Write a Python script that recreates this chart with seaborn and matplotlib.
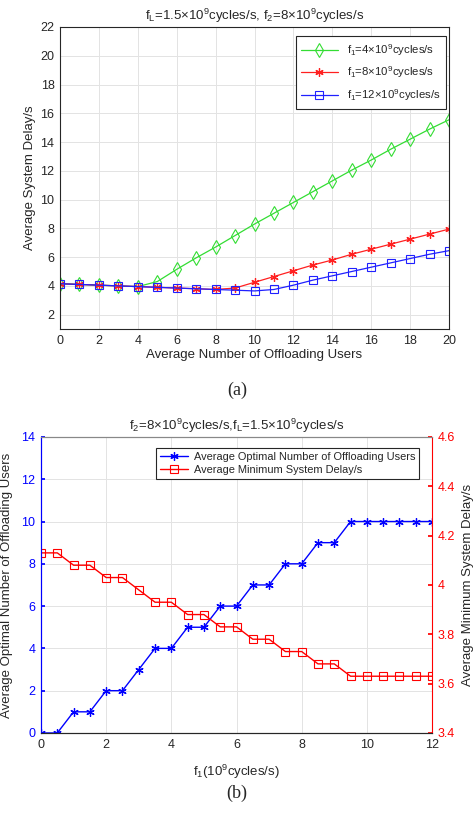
import numpy as np
import pandas as pd
import matplotlib
matplotlib.use("Agg")
import matplotlib.pyplot as plt
import seaborn as sns

# (a) average system delay vs number of offloading users
users = list(range(21))
delay_f4 = [4.15, 4.1, 4.05, 4.0, 3.95, 4.3, 5.15, 5.95, 6.7, 7.5, 8.3,
            9.05, 9.8, 10.55, 11.3, 12.05, 12.75, 13.5, 14.2, 14.9, 15.55]
delay_f8 = [4.15, 4.1, 4.05, 4.0, 3.95, 3.9, 3.85, 3.8, 3.75, 3.85, 4.25,
            4.65, 5.05, 5.45, 5.8, 6.2, 6.55, 6.9, 7.25, 7.6, 7.95]
delay_f12 = [4.15, 4.1, 4.05, 4.0, 3.95, 3.9, 3.85, 3.8, 3.75, 3.7, 3.65,
             3.75, 4.05, 4.4, 4.7, 5.0, 5.3, 5.6, 5.9, 6.2, 6.45]

# (b) optimal users and minimum delay vs f1
f1 = [0, 0.5, 1, 1.5, 2, 2.5, 3, 3.5, 4, 4.5, 5, 5.5, 6, 6.5, 7, 7.5, 8,
      8.5, 9, 9.5, 10, 10.5, 11, 11.5, 12]
opt_users = [0, 0, 1, 1, 2, 2, 3, 4, 4, 5, 5, 6, 6, 7, 7, 8, 8, 9, 9, 10,
             10, 10, 10, 10, 10]
min_delay = [4.13, 4.13, 4.08, 4.08, 4.03, 4.03, 3.98, 3.93, 3.93, 3.88,
             3.88, 3.83, 3.83, 3.78, 3.78, 3.73, 3.73, 3.68, 3.68, 3.63,
             3.63, 3.63, 3.63, 3.63, 3.63]

sns.set_theme(style="whitegrid")
plt.rcParams["font.family"] = ["Liberation Sans", "DejaVu Sans"]
plt.rcParams["mathtext.default"] = "regular"
plt.rcParams["grid.color"] = "#e3e3e3"
plt.rcParams["grid.linewidth"] = 0.7

dark = "#262626"
asterisk = (6, 2, 0)
fig = plt.figure(figsize=(4.74, 8.23), dpi=100)

# ---------------- (a) ----------------
ax = fig.add_axes([0.1266, 0.6002, 0.8207, 0.367])
df_a = pd.DataFrame({"users": users, "f4": delay_f4, "f8": delay_f8,
                     "f12": delay_f12})
sns.lineplot(data=df_a, x="users", y="f4", ax=ax, color="#33dd33", lw=0.9,
             marker="d", markersize=7.5, markerfacecolor="none",
             markeredgecolor="#33dd33", markeredgewidth=0.8,
             label=r"f$_1$=4$\times$10$^9$cycles/s")
sns.lineplot(data=df_a, x="users", y="f8", ax=ax, color="#ff2020", lw=0.9,
             marker=asterisk, markersize=6, markeredgecolor="#ff2020",
             markeredgewidth=0.9,
             label=r"f$_1$=8$\times$10$^9$cycles/s")
sns.lineplot(data=df_a, x="users", y="f12", ax=ax, color="#2020ff", lw=0.9,
             marker="s", markersize=6, markerfacecolor="none",
             markeredgecolor="#2020ff", markeredgewidth=0.8,
             label=r"f$_1$=12$\times$10$^9$cycles/s")
ax.set_xlim(0, 20)
ax.set_ylim(1, 22)
ax.set_xticks(np.arange(0, 21, 2))
ax.set_yticks(np.arange(2, 23, 2))
ax.set_xlabel("Average Number of Offloading Users", fontsize=9.5,
              color=dark, labelpad=2)
ax.set_ylabel("Average System Delay/s", fontsize=9.5, color=dark,
              labelpad=3)
ax.set_title(r"f$_L$=1.5$\times$10$^9$cycles/s, f$_2$=8$\times$10$^9$cycles/s",
             fontsize=9.5, color=dark, pad=5)
ax.tick_params(direction="in", length=3, labelsize=9, colors=dark,
               pad=4)
for s in ax.spines.values():
    s.set_color(dark)
    s.set_linewidth(0.8)
leg = ax.legend(loc="upper right", fontsize=8.2, frameon=True,
                fancybox=False, edgecolor=dark, framealpha=1,
                borderpad=0.5, labelspacing=0.6, handlelength=3.2,
                borderaxespad=0, bbox_to_anchor=(0.992, 0.97))
leg.get_frame().set_linewidth(0.8)
fig.text(0.5, 1 - 390 / 823, "(a)", ha="center", va="center",
         fontsize=13, family="Liberation Serif")

# ---------------- (b) ----------------
bx = fig.add_axes([0.0865, 0.1094, 0.825, 0.3597])
bx2 = bx.twinx()
df_b = pd.DataFrame({"f1": f1, "users": opt_users, "delay": min_delay})
sns.lineplot(data=df_b, x="f1", y="users", ax=bx, color="#0000ff", lw=1.0,
             marker=asterisk, markersize=6, markeredgecolor="#0000ff",
             markeredgewidth=0.9, legend=False)
sns.lineplot(data=df_b, x="f1", y="delay", ax=bx2, color="#ff0000", lw=1.0,
             marker="s", markersize=6, markerfacecolor="none",
             markeredgecolor="#ff0000", markeredgewidth=0.8, legend=False)
bx.set_xlim(0, 12)
bx.set_ylim(0, 14)
bx2.set_ylim(3.4, 4.6)
bx.set_xticks(np.arange(0, 13, 2))
bx.set_yticks(np.arange(0, 15, 2))
bx2.set_yticks(np.round(np.arange(3.4, 4.61, 0.2), 1))
bx2.set_yticklabels(["3.4", "3.6", "3.8", "4", "4.2", "4.4", "4.6"])
bx2.grid(False)
bx.set_xlabel(r"f$_1$(10$^9$cycles/s)", fontsize=9.5, color=dark,
              labelpad=9)
bx.set_ylabel("Average Optimal Number of Offloading Users", fontsize=9.5,
              color=dark, labelpad=6)
bx2.set_ylabel("Average Minimum System Delay/s", fontsize=9.5, color=dark,
               labelpad=5)
bx.set_title(r"f$_2$=8$\times$10$^9$cycles/s,f$_L$=1.5$\times$10$^9$cycles/s",
             fontsize=9.5, color=dark, pad=5)
bx.tick_params(direction="in", length=3, labelsize=9, pad=4)
bx.tick_params(axis="x", colors=dark)
bx.tick_params(axis="y", colors="#0000ff")
bx2.tick_params(axis="y", direction="in", length=3, labelsize=9,
                colors="#ff0000", pad=4)
for a in (bx, bx2):
    for s in a.spines.values():
        s.set_linewidth(0.8)
        s.set_color(dark)
    a.spines["top"].set_color("#888888")
bx2.spines["left"].set_color("#0000ff")
bx2.spines["right"].set_color("#ff0000")
bx.spines["left"].set_color("#0000ff")
bx.spines["right"].set_visible(False)
h1 = bx.get_lines()[0]
h2 = bx2.get_lines()[0]
leg2 = bx2.legend([h1, h2], ["Average Optimal Number of Offloading Users",
                             "Average Minimum System Delay/s"],
                  loc="upper right", fontsize=7.9, frameon=True,
                  fancybox=False, edgecolor=dark, framealpha=1,
                  borderpad=0.35, labelspacing=0.3, handlelength=2.6,
                  handletextpad=0.5, borderaxespad=0,
                  bbox_to_anchor=(0.967, 0.963))
leg2.get_frame().set_linewidth(0.8)
fig.text(0.5, 1 - 793 / 823, "(b)", ha="center", va="center",
         fontsize=13, family="Liberation Serif")

fig.savefig("out.png", dpi=100)
